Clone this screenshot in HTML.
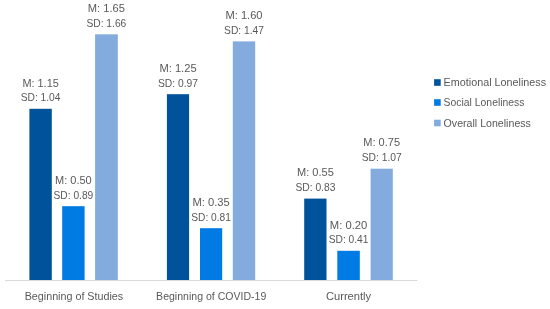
<!DOCTYPE html>
<html lang="en"><head><meta charset="utf-8"><title>Loneliness chart</title>
<style>html,body{margin:0;padding:0;background:#fff;}svg{display:block;}text{font-family:"Liberation Sans",sans-serif;fill:#595959;}</style></head>
<body>
<svg width="550" height="309" viewBox="0 0 550 309">
<rect width="550" height="309" fill="#fff"/>
<rect x="5" y="280" width="412.3" height="1" fill="#d9d9d9"/>
<rect x="29.4" y="108.8" width="22.4" height="171.2" fill="#00539b"/>
<text x="40.6" y="86.5" font-size="10.9" text-anchor="middle" textLength="36.4" lengthAdjust="spacingAndGlyphs">M: 1.15</text>
<text x="40.6" y="101.4" font-size="10.9" text-anchor="middle" textLength="39.8" lengthAdjust="spacingAndGlyphs">SD: 1.04</text>
<rect x="62.2" y="206.2" width="22.4" height="73.8" fill="#007be4"/>
<text x="73.4" y="183.9" font-size="10.9" text-anchor="middle" textLength="36.7" lengthAdjust="spacingAndGlyphs">M: 0.50</text>
<text x="73.4" y="198.8" font-size="10.9" text-anchor="middle" textLength="39.7" lengthAdjust="spacingAndGlyphs">SD: 0.89</text>
<rect x="95.1" y="34.3" width="22.7" height="245.7" fill="#83abde"/>
<text x="106.4" y="12.0" font-size="10.9" text-anchor="middle" textLength="37.2" lengthAdjust="spacingAndGlyphs">M: 1.65</text>
<text x="106.4" y="26.9" font-size="10.9" text-anchor="middle" textLength="39.9" lengthAdjust="spacingAndGlyphs">SD: 1.66</text>
<rect x="166.9" y="94.2" width="22.2" height="185.8" fill="#00539b"/>
<text x="178.0" y="71.9" font-size="10.9" text-anchor="middle" textLength="37.2" lengthAdjust="spacingAndGlyphs">M: 1.25</text>
<text x="178.0" y="86.8" font-size="10.9" text-anchor="middle" textLength="40.0" lengthAdjust="spacingAndGlyphs">SD: 0.97</text>
<rect x="200.0" y="228.2" width="22.2" height="51.8" fill="#007be4"/>
<text x="211.1" y="205.9" font-size="10.9" text-anchor="middle" textLength="37.3" lengthAdjust="spacingAndGlyphs">M: 0.35</text>
<text x="211.1" y="220.8" font-size="10.9" text-anchor="middle" textLength="39.7" lengthAdjust="spacingAndGlyphs">SD: 0.81</text>
<rect x="232.8" y="41.4" width="22.4" height="238.6" fill="#83abde"/>
<text x="244.0" y="19.1" font-size="10.9" text-anchor="middle" textLength="37.1" lengthAdjust="spacingAndGlyphs">M: 1.60</text>
<text x="244.0" y="34.0" font-size="10.9" text-anchor="middle" textLength="39.9" lengthAdjust="spacingAndGlyphs">SD: 1.47</text>
<rect x="304.2" y="198.6" width="22.3" height="81.4" fill="#00539b"/>
<text x="315.4" y="176.3" font-size="10.9" text-anchor="middle" textLength="36.8" lengthAdjust="spacingAndGlyphs">M: 0.55</text>
<text x="315.4" y="191.2" font-size="10.9" text-anchor="middle" textLength="40.0" lengthAdjust="spacingAndGlyphs">SD: 0.83</text>
<rect x="337.3" y="250.8" width="22.5" height="29.2" fill="#007be4"/>
<text x="348.6" y="228.5" font-size="10.9" text-anchor="middle" textLength="37.5" lengthAdjust="spacingAndGlyphs">M: 0.20</text>
<text x="348.6" y="243.4" font-size="10.9" text-anchor="middle" textLength="39.7" lengthAdjust="spacingAndGlyphs">SD: 0.41</text>
<rect x="370.6" y="168.7" width="22.2" height="111.3" fill="#83abde"/>
<text x="381.7" y="146.4" font-size="10.9" text-anchor="middle" textLength="36.8" lengthAdjust="spacingAndGlyphs">M: 0.75</text>
<text x="381.7" y="161.3" font-size="10.9" text-anchor="middle" textLength="40.0" lengthAdjust="spacingAndGlyphs">SD: 1.07</text>
<text x="24.7" y="299.6" font-size="10.9" textLength="98.5" lengthAdjust="spacingAndGlyphs">Beginning of Studies</text>
<text x="156.1" y="299.6" font-size="10.9" textLength="110.2" lengthAdjust="spacingAndGlyphs">Beginning of COVID-19</text>
<text x="325.9" y="299.6" font-size="10.9" textLength="45.3" lengthAdjust="spacingAndGlyphs">Currently</text>
<rect x="434.1" y="79.2" width="6.6" height="6.6" fill="#00539b"/>
<text x="443.6" y="85.9" font-size="10.9" textLength="102.5" lengthAdjust="spacingAndGlyphs">Emotional Loneliness</text>
<rect x="434.1" y="99.2" width="6.6" height="6.6" fill="#007be4"/>
<text x="443.6" y="106.3" font-size="10.9" textLength="80.9" lengthAdjust="spacingAndGlyphs">Social Loneliness</text>
<rect x="434.1" y="119.7" width="6.6" height="6.6" fill="#83abde"/>
<text x="443.6" y="126.8" font-size="10.9" textLength="87.3" lengthAdjust="spacingAndGlyphs">Overall Loneliness</text>
</svg>
</body></html>
